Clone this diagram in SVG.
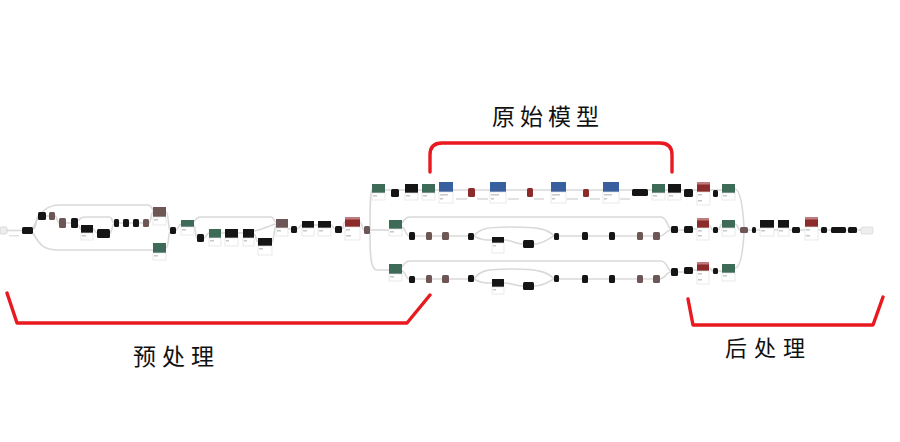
<svg xmlns="http://www.w3.org/2000/svg" width="900" height="442" viewBox="0 0 900 442">
<style>
.k{fill:#151515}
.g{fill:#3e6a58}
.b{fill:#6d5656}
.m{fill:#8c2b2b}
.mt{fill:#c07c7c}
.u{fill:#3a5f9e}
.cap{fill:#fff;stroke:#e0e0e0;stroke-width:.7}
.tx{fill:#c8c8c8}
.el{fill:#e2e2e2}
.e{fill:none;stroke:#d9d9d9;stroke-width:1.6}
.r{fill:none;stroke:#e8191f;stroke-width:3.4;stroke-linecap:round;stroke-linejoin:round}
.lbl{font-family:"Noto Sans CJK SC","Noto Sans CJK TC",sans-serif;fill:#111}
</style>
<rect width="900" height="442" fill="#fff"/>

<g id="connectors">
<path class="e" d="M7,230.5 H22"/>
<path class="e" d="M33,229 C37,229 36,216 38,216"/>
<path class="e" d="M46,216 H49"/>
<path class="e" d="M55,216 C57,216 57,223 59,223"/>
<path class="e" d="M66,223 H71"/>
<path class="e" d="M78,225 C80,225 79,229 81,229"/>
<path class="e" d="M78,221 C81,217 83,217 86,217 H110 C112,217 112,223 114,223"/>
<path class="e" d="M93,229 C95,229 95,233 97,233"/>
<path class="e" d="M110,233 C112,233 112,224 114,224"/>
<path class="e" d="M119,223 H123 M129,223 H133 M139,223 H143"/>
<path class="e" d="M149,223 C151,223 151,212 153,212"/>
<path class="e" d="M33,228 C40,212 46,205 60,205 H148 C151,205 152,209 153,210"/>
<path class="e" d="M33,233 C40,246 45,250 58,250 H153"/>
<path class="e" d="M166,212 C169,212 168,230 170,230"/>
<path class="e" d="M166,248 C169,248 168,232 170,232"/>
<path class="e" d="M176,230 C178,230 179,224 181,224"/>
<path class="e" d="M194,222 C196,218 198,217 201,217 H271 C274,217 274,222 276,222"/>
<path class="e" d="M194,226 C196,226 195,238 197,238"/>
<path class="e" d="M204,238 C206,238 207,233 209,233"/>
<path class="e" d="M221,233 H225 M238,233 H243"/>
<path class="e" d="M254,234 C256,234 256,242 258,242"/>
<path class="e" d="M254,231 C262,230 270,225 276,224"/>
<path class="e" d="M272,242 C274,242 274,226 276,226"/>
<path class="e" d="M288,229 H291"/>
<path class="e" d="M297,229 C299,229 300,225 302,225"/>
<path class="e" d="M314,225 H318"/>
<path class="e" d="M331,225 C333,225 333,229 335,229"/>
<path class="e" d="M342,229 C344,229 343,222 345,222"/>
<path class="e" d="M360,222 C362,222 362,230 364,230"/>
<path class="e" d="M370,229 C370,205 370,189 373,189"/>
<path class="e" d="M370,230 H389"/>
<path class="e" d="M370,232 C370,258 371,270 377,270 H389"/>
<path class="e" d="M385,190 H697 M710,190 H722"/>
<path class="e" d="M735,189 C741,190 743,210 744,227"/>
<path class="e" d="M402,223 C405,218 407,217 411,217 H661 C667,217 668,229 671,229"/>
<path class="e" d="M402,227 C405,227 406,236 409,236 H468"/>
<path class="e" d="M474,236 C480,228 488,227 512,227 C538,227 548,229 554,236"/>
<path class="e" d="M474,236 C480,240 485,240 492,240"/>
<path class="e" d="M504,240 C512,240 515,244 523,244"/>
<path class="e" d="M534,244 C544,244 549,238 554,236"/>
<path class="e" d="M559,236 H653"/>
<path class="e" d="M660,236 C665,236 666,230 671,230"/>
<path class="e" d="M678,230 H684 M693,229 H697"/>
<path class="e" d="M709,225 C711,225 711,230 713,230 M718,230 C720,230 720,224 722,224"/>
<path class="e" d="M735,224 C738,224 738,230 740,230"/>
<path class="e" d="M402,267 C405,262 407,261 411,261 H661 C667,261 668,271 671,271"/>
<path class="e" d="M402,271 C405,271 406,279 409,279 H468"/>
<path class="e" d="M474,279 C480,270 488,269 512,269 C538,269 548,272 554,279"/>
<path class="e" d="M474,279 C480,283 485,283 492,283"/>
<path class="e" d="M504,283 C512,283 515,286 523,286"/>
<path class="e" d="M534,286 C544,286 549,281 554,279"/>
<path class="e" d="M559,279 H653"/>
<path class="e" d="M660,279 C665,279 666,272 671,272"/>
<path class="e" d="M678,272 H684 M693,270 H697"/>
<path class="e" d="M709,268 C711,268 711,271 713,271 M718,271 H722"/>
<path class="e" d="M735,268 C741,268 743,250 744,233"/>
<path class="e" d="M748,230 H861"/>
<rect class="el" x="456" y="198" width="11" height="2"/>
<rect class="el" x="477" y="198" width="11" height="2"/>
<rect class="el" x="508" y="198" width="11" height="2"/>
<rect class="el" x="534" y="198" width="10" height="2"/>
<rect class="el" x="567" y="198" width="11" height="2"/>
<rect class="el" x="590" y="198" width="10" height="2"/>
<rect class="el" x="620" y="198" width="10" height="2"/>
<rect class="el" x="9" y="235" width="10" height="1.5"/>
</g>

<g id="nodes">
<g id="p0"><rect x="0" y="227" width="7" height="7" rx="1.5" fill="#eee" stroke="#ccc" stroke-width=".7"/></g>
<g id="p1"><rect class="k" x="22" y="227" width="11" height="7" rx="1.5"/></g>
<g id="p2"><rect class="k" x="38" y="212" width="8" height="8" rx="1.5"/></g>
<g id="p3"><rect class="b" x="49" y="212" width="6" height="8" rx="1.5"/></g>
<g id="p4"><rect class="b" x="59" y="218" width="7" height="10" rx="1.5"/></g>
<g id="p5"><rect class="k" x="71" y="218" width="7" height="10" rx="1.5"/></g>
<g id="p6"><rect class="k" x="81" y="225" width="12" height="8"/><rect class="cap" x="81" y="233" width="12" height="7"/><rect class="tx" x="82" y="235" width="4" height="1.5"/></g>
<g id="p7"><rect class="k" x="97" y="229" width="13" height="9" rx="1.5"/></g>
<g id="p8"><rect class="k" x="114" y="219" width="5" height="8" rx="1.5"/></g>
<g id="p9"><rect class="k" x="123" y="219" width="6" height="8" rx="1.5"/></g>
<g id="p10"><rect class="k" x="133" y="219" width="6" height="8" rx="1.5"/></g>
<g id="p11"><rect class="b" x="143" y="219" width="6" height="8" rx="1.5"/></g>
<g id="p12"><rect class="b" x="153" y="207" width="13" height="10"/><rect class="cap" x="153" y="217" width="13" height="8"/><rect class="tx" x="154" y="219" width="4" height="1.5"/></g>
<g id="p13"><rect class="g" x="153" y="243" width="13" height="10"/><rect class="cap" x="153" y="253" width="13" height="7"/><rect class="tx" x="154" y="255" width="4" height="1.5"/></g>
<g id="p14"><rect class="k" x="170" y="227" width="6" height="7" rx="1.5"/></g>
<g id="p15"><rect class="g" x="181" y="220" width="13" height="7"/><rect class="cap" x="181" y="227" width="13" height="8"/><rect class="tx" x="182" y="229" width="4" height="1.5"/></g>
<g id="p16"><rect class="k" x="197" y="234" width="7" height="8" rx="1.5"/></g>
<g id="p17"><rect class="g" x="209" y="229" width="12" height="9"/><rect class="cap" x="209" y="238" width="12" height="8"/><rect class="tx" x="210" y="240" width="4" height="1.5"/></g>
<g id="p18"><rect class="k" x="225" y="229" width="13" height="9"/><rect class="cap" x="225" y="238" width="13" height="8"/><rect class="tx" x="226" y="240" width="3" height="1.5"/></g>
<g id="p19"><rect class="k" x="243" y="229" width="11" height="9"/><rect class="cap" x="243" y="238" width="11" height="8"/><rect class="tx" x="244" y="240" width="3" height="1.5"/></g>
<g id="p20"><rect class="k" x="258" y="238" width="14" height="8"/><rect class="cap" x="258" y="246" width="14" height="9"/><rect class="tx" x="259" y="248" width="4" height="1.5"/></g>
<g id="p21"><rect class="b" x="276" y="219" width="12" height="9"/><rect class="cap" x="276" y="228" width="12" height="8"/><rect class="tx" x="277" y="230" width="4" height="1.5"/></g>
<g id="p22"><rect class="k" x="291" y="226" width="6" height="7" rx="1.5"/></g>
<g id="p23"><rect class="k" x="302" y="221" width="12" height="7"/><rect class="cap" x="302" y="228" width="12" height="8"/><rect class="tx" x="303" y="230" width="4" height="1.5"/></g>
<g id="p24"><rect class="k" x="318" y="221" width="13" height="7"/><rect class="cap" x="318" y="228" width="13" height="8"/><rect class="tx" x="319" y="230" width="4" height="1.5"/></g>
<g id="p25"><rect class="k" x="335" y="226" width="7" height="7" rx="1.5"/></g>
<g id="p26"><rect class="m" x="345" y="217" width="15" height="10"/><rect class="mt" x="345" y="217" width="15" height="2.5"/><rect class="cap" x="345" y="227" width="15" height="13"/><rect class="tx" x="346" y="229" width="4" height="1.5"/><rect class="tx" x="346" y="235" width="5" height="1.5"/></g>
<g id="p27"><rect class="b" x="364" y="226" width="6" height="8" rx="1.5"/></g>

<g id="t1"><rect class="g" x="372" y="184" width="13" height="9"/><rect class="cap" x="372" y="193" width="13" height="7"/><rect class="tx" x="373" y="195" width="4" height="1.5"/></g>
<g id="t2"><rect class="k" x="391" y="189" width="8" height="8" rx="1.5"/></g>
<g id="t3"><rect class="k" x="405" y="184" width="13" height="9"/><rect class="cap" x="405" y="193" width="13" height="7"/><rect class="tx" x="406" y="195" width="4" height="1.5"/></g>
<g id="t4"><rect class="g" x="422" y="184" width="13" height="9"/><rect class="cap" x="422" y="193" width="13" height="7"/><rect class="tx" x="423" y="195" width="4" height="1.5"/></g>
<g id="t5"><rect class="u" x="439" y="182" width="14" height="10"/><rect class="cap" x="439" y="192" width="14" height="11"/><rect class="tx" x="440" y="194" width="8" height="1.5"/><rect class="tx" x="440" y="198" width="3" height="1.5"/></g>
<g id="t6"><rect class="m" x="468" y="188" width="7" height="9" rx="1.5"/></g>
<g id="t7"><rect class="u" x="490" y="182" width="16" height="10"/><rect class="cap" x="490" y="192" width="16" height="11"/><rect class="tx" x="491" y="194" width="8" height="1.5"/><rect class="tx" x="491" y="198" width="3" height="1.5"/></g>
<g id="t8"><rect class="m" x="527" y="188" width="6" height="9" rx="1.5"/></g>
<g id="t9"><rect class="u" x="551" y="182" width="15" height="10"/><rect class="cap" x="551" y="192" width="15" height="11"/><rect class="tx" x="552" y="194" width="8" height="1.5"/><rect class="tx" x="552" y="198" width="3" height="1.5"/></g>
<g id="t10"><rect class="m" x="583" y="189" width="6" height="8" rx="1.5"/></g>
<g id="t11"><rect class="u" x="603" y="182" width="16" height="10"/><rect class="cap" x="603" y="192" width="16" height="11"/><rect class="tx" x="604" y="194" width="8" height="1.5"/><rect class="tx" x="604" y="198" width="3" height="1.5"/></g>
<g id="t12"><rect class="k" x="632" y="189" width="16" height="7" rx="1.5"/></g>
<g id="t13"><rect class="g" x="652" y="184" width="13" height="9"/><rect class="cap" x="652" y="193" width="13" height="7"/><rect class="tx" x="653" y="195" width="4" height="1.5"/></g>
<g id="t14"><rect class="k" x="668" y="184" width="13" height="9"/><rect class="cap" x="668" y="193" width="13" height="7"/><rect class="tx" x="669" y="195" width="4" height="1.5"/></g>
<g id="t15"><rect class="k" x="684" y="189" width="9" height="8" rx="1.5"/></g>
<g id="t16"><rect class="m" x="697" y="182" width="13" height="10"/><rect class="mt" x="697" y="182" width="13" height="2.5"/><rect class="cap" x="697" y="192" width="13" height="13"/><rect class="tx" x="698" y="194" width="4" height="1.5"/><rect class="tx" x="698" y="200" width="4" height="1.5"/></g>
<g id="t17"><rect class="k" x="713" y="190" width="5" height="7" rx="1.5"/></g>
<g id="t18"><rect class="g" x="722" y="184" width="13" height="9"/><rect class="cap" x="722" y="193" width="13" height="7"/><rect class="tx" x="723" y="195" width="4" height="1.5"/></g>

<g id="a1"><rect class="g" x="389" y="220" width="13" height="9"/><rect class="cap" x="389" y="229" width="13" height="7"/><rect class="tx" x="390" y="231" width="4" height="1.5"/></g>
<g id="a2"><rect class="k" x="409" y="232" width="6" height="8" rx="1.5"/></g>
<g id="a3"><rect class="b" x="426" y="232" width="6" height="8" rx="1.5"/></g>
<g id="a4"><rect class="b" x="442" y="232" width="7" height="8" rx="1.5"/></g>
<g id="a5"><rect class="k" x="468" y="233" width="6" height="7" rx="1.5"/></g>
<g id="a6"><rect class="k" x="492" y="237" width="12" height="6"/><rect class="cap" x="492" y="243" width="12" height="10"/><rect class="tx" x="493" y="245" width="3" height="1.5"/></g>
<g id="a7"><rect class="k" x="523" y="240" width="11" height="8" rx="1.5"/></g>
<g id="a8"><rect class="k" x="554" y="233" width="5" height="7" rx="1.5"/></g>
<g id="a9"><rect class="k" x="582" y="232" width="6" height="8" rx="1.5"/></g>
<g id="a10"><rect class="k" x="609" y="232" width="6" height="8" rx="1.5"/></g>
<g id="a11"><rect class="b" x="637" y="232" width="6" height="8" rx="1.5"/></g>
<g id="a12"><rect class="b" x="653" y="232" width="7" height="8" rx="1.5"/></g>
<g id="a13"><rect class="k" x="671" y="226" width="7" height="7" rx="1.5"/></g>
<g id="a14"><rect class="k" x="684" y="226" width="9" height="7" rx="1.5"/></g>
<g id="a15"><rect class="m" x="697" y="218" width="12" height="10"/><rect class="mt" x="697" y="218" width="12" height="2.5"/><rect class="cap" x="697" y="228" width="12" height="12"/><rect class="tx" x="698" y="230" width="4" height="1.5"/><rect class="tx" x="698" y="235" width="4" height="1.5"/></g>
<g id="a16"><rect class="k" x="713" y="227" width="5" height="6" rx="1.5"/></g>
<g id="a17"><rect class="g" x="722" y="220" width="13" height="8"/><rect class="cap" x="722" y="228" width="13" height="8"/><rect class="tx" x="723" y="230" width="4" height="1.5"/></g>

<g id="c1"><rect class="g" x="389" y="264" width="13" height="10"/><rect class="cap" x="389" y="274" width="13" height="7"/><rect class="tx" x="390" y="276" width="4" height="1.5"/></g>
<g id="c2"><rect class="k" x="409" y="276" width="6" height="7" rx="1.5"/></g>
<g id="c3"><rect class="b" x="426" y="275" width="6" height="8" rx="1.5"/></g>
<g id="c4"><rect class="b" x="442" y="275" width="7" height="8" rx="1.5"/></g>
<g id="c5"><rect class="k" x="468" y="275" width="6" height="7" rx="1.5"/></g>
<g id="c6"><rect class="k" x="492" y="279" width="12" height="8"/><rect class="cap" x="492" y="287" width="12" height="7"/><rect class="tx" x="493" y="289" width="3" height="1.5"/></g>
<g id="c7"><rect class="k" x="523" y="282" width="11" height="8" rx="1.5"/></g>
<g id="c8"><rect class="k" x="554" y="275" width="5" height="7" rx="1.5"/></g>
<g id="c9"><rect class="k" x="582" y="275" width="6" height="8" rx="1.5"/></g>
<g id="c10"><rect class="k" x="609" y="275" width="6" height="8" rx="1.5"/></g>
<g id="c11"><rect class="b" x="637" y="275" width="6" height="8" rx="1.5"/></g>
<g id="c12"><rect class="b" x="653" y="275" width="7" height="8" rx="1.5"/></g>
<g id="c13"><rect class="k" x="671" y="268" width="7" height="8" rx="1.5"/></g>
<g id="c14"><rect class="k" x="684" y="267" width="9" height="7" rx="1.5"/></g>
<g id="c15"><rect class="m" x="697" y="262" width="12" height="9"/><rect class="mt" x="697" y="262" width="12" height="2.5"/><rect class="cap" x="697" y="271" width="12" height="13"/><rect class="tx" x="698" y="273" width="4" height="1.5"/><rect class="tx" x="698" y="279" width="4" height="1.5"/></g>
<g id="c16"><rect class="k" x="713" y="268" width="5" height="6" rx="1.5"/></g>
<g id="c17"><rect class="g" x="722" y="264" width="13" height="9"/><rect class="cap" x="722" y="273" width="13" height="8"/><rect class="tx" x="723" y="275" width="4" height="1.5"/></g>

<g id="q1"><rect class="b" x="740" y="227" width="8" height="6" rx="1.5"/></g>
<g id="q2"><rect class="k" x="752" y="227" width="4" height="6" rx="1.5"/></g>
<g id="q3"><rect class="k" x="760" y="220" width="14" height="8"/><rect class="cap" x="760" y="228" width="14" height="8"/><rect class="tx" x="761" y="230" width="4" height="1.5"/></g>
<g id="q4"><rect class="k" x="778" y="220" width="11" height="8"/><rect class="cap" x="778" y="228" width="11" height="8"/><rect class="tx" x="779" y="230" width="4" height="1.5"/></g>
<g id="q5"><rect class="k" x="792" y="227" width="8" height="6" rx="1.5"/></g>
<g id="q6"><rect class="m" x="805" y="217" width="13" height="10"/><rect class="mt" x="805" y="217" width="13" height="2.5"/><rect class="cap" x="805" y="227" width="13" height="13"/><rect class="tx" x="806" y="229" width="4" height="1.5"/><rect class="tx" x="806" y="235" width="4" height="1.5"/></g>
<g id="q7"><rect class="k" x="821" y="227" width="6" height="6" rx="1.5"/></g>
<g id="q8"><rect class="k" x="831" y="227" width="15" height="6" rx="1.5"/></g>
<g id="q9"><rect class="k" x="848" y="227" width="9" height="6" rx="1.5"/></g>
<g id="q10"><rect x="861" y="227" width="12" height="7" rx="1.5" fill="#eee" stroke="#d4d4d4" stroke-width=".7"/></g>
</g>

<g id="brackets">
<path class="r" d="M430,172 V155 Q430,143 442,143 H660 Q672,143 672,155 V172"/>
<path class="r" d="M7,293 L17,323 H407 L430,295"/>
<path class="r" d="M688,299 L693,325 H873 L883,297"/>
</g>

<g id="labels">
<text class="lbl" x="492" y="125" font-size="23" letter-spacing="5">原始模型</text>
<text class="lbl" x="133" y="365" font-size="23" letter-spacing="6">预处理</text>
<text class="lbl" x="725" y="356" font-size="22" letter-spacing="7">后处理</text>
</g>
</svg>
